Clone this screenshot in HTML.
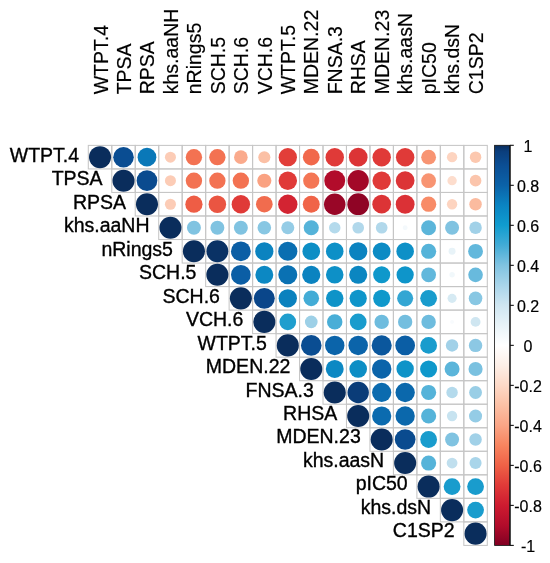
<!DOCTYPE html>
<html><head><meta charset="utf-8"><title>corrplot</title>
<style>html,body{margin:0;padding:0;background:#fff;} body{width:550px;height:563px;overflow:hidden;} svg{display:block;}</style>
</head><body>
<svg width="550" height="563" viewBox="0 0 550 563" font-family="Liberation Sans, Arial, sans-serif">
<rect width="550" height="563" fill="#fff"/>
<g fill="none" stroke="#c6c6c6" stroke-width="1.05"><rect x="88.30" y="145.40" width="23.47" height="23.53"/><rect x="111.77" y="145.40" width="23.47" height="23.53"/><rect x="135.24" y="145.40" width="23.47" height="23.53"/><rect x="158.71" y="145.40" width="23.47" height="23.53"/><rect x="182.18" y="145.40" width="23.47" height="23.53"/><rect x="205.65" y="145.40" width="23.47" height="23.53"/><rect x="229.12" y="145.40" width="23.47" height="23.53"/><rect x="252.59" y="145.40" width="23.47" height="23.53"/><rect x="276.06" y="145.40" width="23.47" height="23.53"/><rect x="299.53" y="145.40" width="23.47" height="23.53"/><rect x="323.00" y="145.40" width="23.47" height="23.53"/><rect x="346.47" y="145.40" width="23.47" height="23.53"/><rect x="369.94" y="145.40" width="23.47" height="23.53"/><rect x="393.41" y="145.40" width="23.47" height="23.53"/><rect x="416.88" y="145.40" width="23.47" height="23.53"/><rect x="440.35" y="145.40" width="23.47" height="23.53"/><rect x="463.82" y="145.40" width="23.47" height="23.53"/><rect x="111.77" y="168.93" width="23.47" height="23.53"/><rect x="135.24" y="168.93" width="23.47" height="23.53"/><rect x="158.71" y="168.93" width="23.47" height="23.53"/><rect x="182.18" y="168.93" width="23.47" height="23.53"/><rect x="205.65" y="168.93" width="23.47" height="23.53"/><rect x="229.12" y="168.93" width="23.47" height="23.53"/><rect x="252.59" y="168.93" width="23.47" height="23.53"/><rect x="276.06" y="168.93" width="23.47" height="23.53"/><rect x="299.53" y="168.93" width="23.47" height="23.53"/><rect x="323.00" y="168.93" width="23.47" height="23.53"/><rect x="346.47" y="168.93" width="23.47" height="23.53"/><rect x="369.94" y="168.93" width="23.47" height="23.53"/><rect x="393.41" y="168.93" width="23.47" height="23.53"/><rect x="416.88" y="168.93" width="23.47" height="23.53"/><rect x="440.35" y="168.93" width="23.47" height="23.53"/><rect x="463.82" y="168.93" width="23.47" height="23.53"/><rect x="135.24" y="192.46" width="23.47" height="23.53"/><rect x="158.71" y="192.46" width="23.47" height="23.53"/><rect x="182.18" y="192.46" width="23.47" height="23.53"/><rect x="205.65" y="192.46" width="23.47" height="23.53"/><rect x="229.12" y="192.46" width="23.47" height="23.53"/><rect x="252.59" y="192.46" width="23.47" height="23.53"/><rect x="276.06" y="192.46" width="23.47" height="23.53"/><rect x="299.53" y="192.46" width="23.47" height="23.53"/><rect x="323.00" y="192.46" width="23.47" height="23.53"/><rect x="346.47" y="192.46" width="23.47" height="23.53"/><rect x="369.94" y="192.46" width="23.47" height="23.53"/><rect x="393.41" y="192.46" width="23.47" height="23.53"/><rect x="416.88" y="192.46" width="23.47" height="23.53"/><rect x="440.35" y="192.46" width="23.47" height="23.53"/><rect x="463.82" y="192.46" width="23.47" height="23.53"/><rect x="158.71" y="215.99" width="23.47" height="23.53"/><rect x="182.18" y="215.99" width="23.47" height="23.53"/><rect x="205.65" y="215.99" width="23.47" height="23.53"/><rect x="229.12" y="215.99" width="23.47" height="23.53"/><rect x="252.59" y="215.99" width="23.47" height="23.53"/><rect x="276.06" y="215.99" width="23.47" height="23.53"/><rect x="299.53" y="215.99" width="23.47" height="23.53"/><rect x="323.00" y="215.99" width="23.47" height="23.53"/><rect x="346.47" y="215.99" width="23.47" height="23.53"/><rect x="369.94" y="215.99" width="23.47" height="23.53"/><rect x="393.41" y="215.99" width="23.47" height="23.53"/><rect x="416.88" y="215.99" width="23.47" height="23.53"/><rect x="440.35" y="215.99" width="23.47" height="23.53"/><rect x="463.82" y="215.99" width="23.47" height="23.53"/><rect x="182.18" y="239.52" width="23.47" height="23.53"/><rect x="205.65" y="239.52" width="23.47" height="23.53"/><rect x="229.12" y="239.52" width="23.47" height="23.53"/><rect x="252.59" y="239.52" width="23.47" height="23.53"/><rect x="276.06" y="239.52" width="23.47" height="23.53"/><rect x="299.53" y="239.52" width="23.47" height="23.53"/><rect x="323.00" y="239.52" width="23.47" height="23.53"/><rect x="346.47" y="239.52" width="23.47" height="23.53"/><rect x="369.94" y="239.52" width="23.47" height="23.53"/><rect x="393.41" y="239.52" width="23.47" height="23.53"/><rect x="416.88" y="239.52" width="23.47" height="23.53"/><rect x="440.35" y="239.52" width="23.47" height="23.53"/><rect x="463.82" y="239.52" width="23.47" height="23.53"/><rect x="205.65" y="263.05" width="23.47" height="23.53"/><rect x="229.12" y="263.05" width="23.47" height="23.53"/><rect x="252.59" y="263.05" width="23.47" height="23.53"/><rect x="276.06" y="263.05" width="23.47" height="23.53"/><rect x="299.53" y="263.05" width="23.47" height="23.53"/><rect x="323.00" y="263.05" width="23.47" height="23.53"/><rect x="346.47" y="263.05" width="23.47" height="23.53"/><rect x="369.94" y="263.05" width="23.47" height="23.53"/><rect x="393.41" y="263.05" width="23.47" height="23.53"/><rect x="416.88" y="263.05" width="23.47" height="23.53"/><rect x="440.35" y="263.05" width="23.47" height="23.53"/><rect x="463.82" y="263.05" width="23.47" height="23.53"/><rect x="229.12" y="286.58" width="23.47" height="23.53"/><rect x="252.59" y="286.58" width="23.47" height="23.53"/><rect x="276.06" y="286.58" width="23.47" height="23.53"/><rect x="299.53" y="286.58" width="23.47" height="23.53"/><rect x="323.00" y="286.58" width="23.47" height="23.53"/><rect x="346.47" y="286.58" width="23.47" height="23.53"/><rect x="369.94" y="286.58" width="23.47" height="23.53"/><rect x="393.41" y="286.58" width="23.47" height="23.53"/><rect x="416.88" y="286.58" width="23.47" height="23.53"/><rect x="440.35" y="286.58" width="23.47" height="23.53"/><rect x="463.82" y="286.58" width="23.47" height="23.53"/><rect x="252.59" y="310.11" width="23.47" height="23.53"/><rect x="276.06" y="310.11" width="23.47" height="23.53"/><rect x="299.53" y="310.11" width="23.47" height="23.53"/><rect x="323.00" y="310.11" width="23.47" height="23.53"/><rect x="346.47" y="310.11" width="23.47" height="23.53"/><rect x="369.94" y="310.11" width="23.47" height="23.53"/><rect x="393.41" y="310.11" width="23.47" height="23.53"/><rect x="416.88" y="310.11" width="23.47" height="23.53"/><rect x="440.35" y="310.11" width="23.47" height="23.53"/><rect x="463.82" y="310.11" width="23.47" height="23.53"/><rect x="276.06" y="333.64" width="23.47" height="23.53"/><rect x="299.53" y="333.64" width="23.47" height="23.53"/><rect x="323.00" y="333.64" width="23.47" height="23.53"/><rect x="346.47" y="333.64" width="23.47" height="23.53"/><rect x="369.94" y="333.64" width="23.47" height="23.53"/><rect x="393.41" y="333.64" width="23.47" height="23.53"/><rect x="416.88" y="333.64" width="23.47" height="23.53"/><rect x="440.35" y="333.64" width="23.47" height="23.53"/><rect x="463.82" y="333.64" width="23.47" height="23.53"/><rect x="299.53" y="357.17" width="23.47" height="23.53"/><rect x="323.00" y="357.17" width="23.47" height="23.53"/><rect x="346.47" y="357.17" width="23.47" height="23.53"/><rect x="369.94" y="357.17" width="23.47" height="23.53"/><rect x="393.41" y="357.17" width="23.47" height="23.53"/><rect x="416.88" y="357.17" width="23.47" height="23.53"/><rect x="440.35" y="357.17" width="23.47" height="23.53"/><rect x="463.82" y="357.17" width="23.47" height="23.53"/><rect x="323.00" y="380.70" width="23.47" height="23.53"/><rect x="346.47" y="380.70" width="23.47" height="23.53"/><rect x="369.94" y="380.70" width="23.47" height="23.53"/><rect x="393.41" y="380.70" width="23.47" height="23.53"/><rect x="416.88" y="380.70" width="23.47" height="23.53"/><rect x="440.35" y="380.70" width="23.47" height="23.53"/><rect x="463.82" y="380.70" width="23.47" height="23.53"/><rect x="346.47" y="404.23" width="23.47" height="23.53"/><rect x="369.94" y="404.23" width="23.47" height="23.53"/><rect x="393.41" y="404.23" width="23.47" height="23.53"/><rect x="416.88" y="404.23" width="23.47" height="23.53"/><rect x="440.35" y="404.23" width="23.47" height="23.53"/><rect x="463.82" y="404.23" width="23.47" height="23.53"/><rect x="369.94" y="427.76" width="23.47" height="23.53"/><rect x="393.41" y="427.76" width="23.47" height="23.53"/><rect x="416.88" y="427.76" width="23.47" height="23.53"/><rect x="440.35" y="427.76" width="23.47" height="23.53"/><rect x="463.82" y="427.76" width="23.47" height="23.53"/><rect x="393.41" y="451.29" width="23.47" height="23.53"/><rect x="416.88" y="451.29" width="23.47" height="23.53"/><rect x="440.35" y="451.29" width="23.47" height="23.53"/><rect x="463.82" y="451.29" width="23.47" height="23.53"/><rect x="416.88" y="474.82" width="23.47" height="23.53"/><rect x="440.35" y="474.82" width="23.47" height="23.53"/><rect x="463.82" y="474.82" width="23.47" height="23.53"/><rect x="440.35" y="498.35" width="23.47" height="23.53"/><rect x="463.82" y="498.35" width="23.47" height="23.53"/><rect x="463.82" y="521.88" width="23.47" height="23.53"/></g>
<g><circle cx="100.03" cy="157.17" r="11.03" fill="#0a2d5c"/><circle cx="123.50" cy="157.17" r="10.29" fill="#0a4d92"/><circle cx="146.98" cy="157.17" r="9.36" fill="#0a78b8"/><circle cx="170.44" cy="157.17" r="5.52" fill="#fcccb6"/><circle cx="193.92" cy="157.17" r="8.18" fill="#f37252"/><circle cx="217.38" cy="157.17" r="8.18" fill="#f37252"/><circle cx="240.86" cy="157.17" r="6.80" fill="#faaa8c"/><circle cx="264.32" cy="157.17" r="6.04" fill="#fbc0a5"/><circle cx="287.80" cy="157.17" r="9.16" fill="#e23e39"/><circle cx="311.26" cy="157.17" r="8.40" fill="#f1684b"/><circle cx="334.74" cy="157.17" r="9.23" fill="#e03a38"/><circle cx="358.20" cy="157.17" r="9.36" fill="#dc3436"/><circle cx="381.68" cy="157.17" r="9.23" fill="#e03a38"/><circle cx="405.15" cy="157.17" r="9.23" fill="#e03a38"/><circle cx="428.62" cy="157.17" r="7.40" fill="#f89472"/><circle cx="452.08" cy="157.17" r="5.17" fill="#fdd4c0"/><circle cx="475.56" cy="157.17" r="5.73" fill="#fcc8af"/><circle cx="123.50" cy="180.69" r="11.03" fill="#0a2d5c"/><circle cx="146.98" cy="180.69" r="10.35" fill="#0a4b8f"/><circle cx="170.44" cy="180.69" r="5.52" fill="#fcccb6"/><circle cx="193.92" cy="180.69" r="8.18" fill="#f37252"/><circle cx="217.38" cy="180.69" r="8.18" fill="#f37252"/><circle cx="240.86" cy="180.69" r="8.18" fill="#f37252"/><circle cx="264.32" cy="180.69" r="7.06" fill="#faa282"/><circle cx="287.80" cy="180.69" r="9.23" fill="#e03a38"/><circle cx="311.26" cy="180.69" r="8.11" fill="#f47655"/><circle cx="334.74" cy="180.69" r="10.46" fill="#b20c2b"/><circle cx="358.20" cy="180.69" r="10.64" fill="#a30828"/><circle cx="381.68" cy="180.69" r="9.23" fill="#e03a38"/><circle cx="405.15" cy="180.69" r="9.36" fill="#dc3436"/><circle cx="428.62" cy="180.69" r="7.40" fill="#f89472"/><circle cx="452.08" cy="180.69" r="4.68" fill="#fdddcd"/><circle cx="475.56" cy="180.69" r="5.84" fill="#fbc5ac"/><circle cx="146.98" cy="204.23" r="11.03" fill="#0a2d5c"/><circle cx="170.44" cy="204.23" r="5.52" fill="#fcccb6"/><circle cx="193.92" cy="204.23" r="8.62" fill="#ee5d45"/><circle cx="217.38" cy="204.23" r="8.76" fill="#ea5542"/><circle cx="240.86" cy="204.23" r="9.23" fill="#e03a38"/><circle cx="264.32" cy="204.23" r="8.33" fill="#f16c4e"/><circle cx="287.80" cy="204.23" r="9.68" fill="#d32432"/><circle cx="311.26" cy="204.23" r="8.47" fill="#f06448"/><circle cx="334.74" cy="204.23" r="10.75" fill="#990627"/><circle cx="358.20" cy="204.23" r="10.86" fill="#8f0425"/><circle cx="381.68" cy="204.23" r="9.36" fill="#dc3436"/><circle cx="405.15" cy="204.23" r="9.42" fill="#db3136"/><circle cx="428.62" cy="204.23" r="7.64" fill="#f88b67"/><circle cx="452.08" cy="204.23" r="5.17" fill="#fdd4c0"/><circle cx="475.56" cy="204.23" r="6.24" fill="#fbbb9f"/><circle cx="170.44" cy="227.75" r="11.03" fill="#0a2d5c"/><circle cx="193.92" cy="227.75" r="6.98" fill="#80c3e1"/><circle cx="217.38" cy="227.75" r="6.98" fill="#80c3e1"/><circle cx="240.86" cy="227.75" r="6.98" fill="#80c3e1"/><circle cx="264.32" cy="227.75" r="6.80" fill="#88c7e3"/><circle cx="287.80" cy="227.75" r="6.53" fill="#94cce6"/><circle cx="311.26" cy="227.75" r="7.56" fill="#55b3d9"/><circle cx="334.74" cy="227.75" r="5.73" fill="#b4daec"/><circle cx="358.20" cy="227.75" r="5.84" fill="#b1d8eb"/><circle cx="381.68" cy="227.75" r="5.84" fill="#b1d8eb"/><circle cx="405.15" cy="227.75" r="2.47" fill="#f4f9fc"/><circle cx="428.62" cy="227.75" r="7.48" fill="#5bb5da"/><circle cx="452.08" cy="227.75" r="6.98" fill="#80c3e1"/><circle cx="475.56" cy="227.75" r="6.24" fill="#a1d1e8"/><circle cx="193.92" cy="251.29" r="11.03" fill="#0a2d5c"/><circle cx="217.38" cy="251.29" r="10.92" fill="#0a3265"/><circle cx="240.86" cy="251.29" r="9.87" fill="#0b5ea5"/><circle cx="264.32" cy="251.29" r="9.10" fill="#0b83c0"/><circle cx="287.80" cy="251.29" r="9.55" fill="#0a6eb1"/><circle cx="311.26" cy="251.29" r="8.82" fill="#0d8ec5"/><circle cx="334.74" cy="251.29" r="8.76" fill="#0d90c7"/><circle cx="358.20" cy="251.29" r="9.10" fill="#0b83c0"/><circle cx="381.68" cy="251.29" r="8.89" fill="#0c8bc4"/><circle cx="405.15" cy="251.29" r="8.76" fill="#0d90c7"/><circle cx="428.62" cy="251.29" r="7.56" fill="#55b3d9"/><circle cx="452.08" cy="251.29" r="3.49" fill="#e8f3f8"/><circle cx="475.56" cy="251.29" r="7.40" fill="#62b8dc"/><circle cx="217.38" cy="274.81" r="11.03" fill="#0a2d5c"/><circle cx="240.86" cy="274.81" r="9.87" fill="#0b5ea5"/><circle cx="264.32" cy="274.81" r="8.96" fill="#0c88c3"/><circle cx="287.80" cy="274.81" r="9.49" fill="#0a71b3"/><circle cx="311.26" cy="274.81" r="9.10" fill="#0b83c0"/><circle cx="334.74" cy="274.81" r="8.76" fill="#0d90c7"/><circle cx="358.20" cy="274.81" r="9.03" fill="#0b86c1"/><circle cx="381.68" cy="274.81" r="8.54" fill="#0f98cb"/><circle cx="405.15" cy="274.81" r="8.62" fill="#0e95ca"/><circle cx="428.62" cy="274.81" r="7.40" fill="#62b8dc"/><circle cx="452.08" cy="274.81" r="2.70" fill="#f1f8fb"/><circle cx="475.56" cy="274.81" r="7.32" fill="#68badd"/><circle cx="240.86" cy="298.35" r="11.03" fill="#0a2d5c"/><circle cx="264.32" cy="298.35" r="10.46" fill="#0a468a"/><circle cx="287.80" cy="298.35" r="9.16" fill="#0a81be"/><circle cx="311.26" cy="298.35" r="7.80" fill="#43acd6"/><circle cx="334.74" cy="298.35" r="8.69" fill="#0e93c8"/><circle cx="358.20" cy="298.35" r="8.62" fill="#0e95ca"/><circle cx="381.68" cy="298.35" r="8.54" fill="#0f98cb"/><circle cx="405.15" cy="298.35" r="8.03" fill="#33a6d3"/><circle cx="428.62" cy="298.35" r="8.40" fill="#199ccd"/><circle cx="452.08" cy="298.35" r="4.55" fill="#d6eaf3"/><circle cx="475.56" cy="298.35" r="6.80" fill="#88c7e3"/><circle cx="264.32" cy="321.88" r="11.03" fill="#0a2d5c"/><circle cx="287.80" cy="321.88" r="8.33" fill="#1f9ece"/><circle cx="311.26" cy="321.88" r="6.34" fill="#9dd0e7"/><circle cx="334.74" cy="321.88" r="7.72" fill="#49aed7"/><circle cx="358.20" cy="321.88" r="8.40" fill="#199ccd"/><circle cx="381.68" cy="321.88" r="7.23" fill="#6ebcde"/><circle cx="405.15" cy="321.88" r="7.15" fill="#74bedf"/><circle cx="428.62" cy="321.88" r="7.23" fill="#6ebcde"/><circle cx="452.08" cy="321.88" r="1.91" fill="#f8fbfd"/><circle cx="475.56" cy="321.88" r="4.93" fill="#cfe6f1"/><circle cx="287.80" cy="345.40" r="11.03" fill="#0a2d5c"/><circle cx="311.26" cy="345.40" r="10.29" fill="#0a4d92"/><circle cx="334.74" cy="345.40" r="9.74" fill="#0b64aa"/><circle cx="358.20" cy="345.40" r="9.74" fill="#0b64aa"/><circle cx="381.68" cy="345.40" r="10.05" fill="#0b579d"/><circle cx="405.15" cy="345.40" r="9.87" fill="#0b5ea5"/><circle cx="428.62" cy="345.40" r="8.40" fill="#199ccd"/><circle cx="452.08" cy="345.40" r="6.24" fill="#a1d1e8"/><circle cx="475.56" cy="345.40" r="6.71" fill="#8cc8e4"/><circle cx="311.26" cy="368.94" r="11.03" fill="#0a2d5c"/><circle cx="334.74" cy="368.94" r="8.96" fill="#0c88c3"/><circle cx="358.20" cy="368.94" r="8.82" fill="#0d8ec5"/><circle cx="381.68" cy="368.94" r="9.74" fill="#0b64aa"/><circle cx="405.15" cy="368.94" r="8.69" fill="#0e93c8"/><circle cx="428.62" cy="368.94" r="8.54" fill="#0f98cb"/><circle cx="452.08" cy="368.94" r="7.48" fill="#5bb5da"/><circle cx="475.56" cy="368.94" r="7.06" fill="#7ac1e0"/><circle cx="334.74" cy="392.47" r="11.03" fill="#0a2d5c"/><circle cx="358.20" cy="392.47" r="10.69" fill="#0a3c78"/><circle cx="381.68" cy="392.47" r="9.62" fill="#0b6baf"/><circle cx="405.15" cy="392.47" r="9.68" fill="#0b68ac"/><circle cx="428.62" cy="392.47" r="7.56" fill="#55b3d9"/><circle cx="452.08" cy="392.47" r="5.73" fill="#b4daec"/><circle cx="475.56" cy="392.47" r="6.43" fill="#99cee6"/><circle cx="358.20" cy="416.00" r="11.03" fill="#0a2d5c"/><circle cx="381.68" cy="416.00" r="9.62" fill="#0b6baf"/><circle cx="405.15" cy="416.00" r="9.68" fill="#0b68ac"/><circle cx="428.62" cy="416.00" r="7.56" fill="#55b3d9"/><circle cx="452.08" cy="416.00" r="5.17" fill="#c7e3f0"/><circle cx="475.56" cy="416.00" r="6.53" fill="#94cce6"/><circle cx="381.68" cy="439.52" r="11.03" fill="#0a2d5c"/><circle cx="405.15" cy="439.52" r="10.35" fill="#0a4b8f"/><circle cx="428.62" cy="439.52" r="8.40" fill="#199ccd"/><circle cx="452.08" cy="439.52" r="6.98" fill="#80c3e1"/><circle cx="475.56" cy="439.52" r="6.24" fill="#a1d1e8"/><circle cx="405.15" cy="463.05" r="11.03" fill="#0a2d5c"/><circle cx="428.62" cy="463.05" r="7.56" fill="#55b3d9"/><circle cx="452.08" cy="463.05" r="5.40" fill="#c0dfee"/><circle cx="475.56" cy="463.05" r="6.04" fill="#a9d5ea"/><circle cx="428.62" cy="486.59" r="11.03" fill="#0a2d5c"/><circle cx="452.08" cy="486.59" r="8.40" fill="#199ccd"/><circle cx="475.56" cy="486.59" r="8.40" fill="#199ccd"/><circle cx="452.08" cy="510.12" r="11.03" fill="#0a2d5c"/><circle cx="475.56" cy="510.12" r="8.40" fill="#199ccd"/><circle cx="475.56" cy="533.64" r="11.03" fill="#0a2d5c"/></g>
<g font-size="19.5" fill="#000" stroke="#000" stroke-width="0.35"><text x="79.10" y="161.80" text-anchor="end">WTPT.4</text><text x="102.57" y="185.27" text-anchor="end">TPSA</text><text x="126.04" y="208.74" text-anchor="end">RPSA</text><text x="149.51" y="232.21" text-anchor="end">khs.aaNH</text><text x="172.98" y="255.68" text-anchor="end">nRings5</text><text x="196.45" y="279.15" text-anchor="end">SCH.5</text><text x="219.92" y="302.62" text-anchor="end">SCH.6</text><text x="243.39" y="326.09" text-anchor="end">VCH.6</text><text x="266.86" y="349.56" text-anchor="end">WTPT.5</text><text x="290.33" y="373.03" text-anchor="end">MDEN.22</text><text x="313.80" y="396.50" text-anchor="end">FNSA.3</text><text x="337.27" y="419.97" text-anchor="end">RHSA</text><text x="360.74" y="443.44" text-anchor="end">MDEN.23</text><text x="384.21" y="466.91" text-anchor="end">khs.aasN</text><text x="407.68" y="490.38" text-anchor="end">pIC50</text><text x="431.15" y="513.85" text-anchor="end">khs.dsN</text><text x="454.62" y="537.32" text-anchor="end">C1SP2</text><text transform="translate(107.50,94.30) rotate(-90)" stroke-width="0.18">WTPT.4</text><text transform="translate(130.94,94.30) rotate(-90)" stroke-width="0.18">TPSA</text><text transform="translate(154.38,94.30) rotate(-90)" stroke-width="0.18">RPSA</text><text transform="translate(177.82,94.30) rotate(-90)" stroke-width="0.18">khs.aaNH</text><text transform="translate(201.26,94.30) rotate(-90)" stroke-width="0.18">nRings5</text><text transform="translate(224.70,94.30) rotate(-90)" stroke-width="0.18">SCH.5</text><text transform="translate(248.14,94.30) rotate(-90)" stroke-width="0.18">SCH.6</text><text transform="translate(271.58,94.30) rotate(-90)" stroke-width="0.18">VCH.6</text><text transform="translate(295.02,94.30) rotate(-90)" stroke-width="0.18">WTPT.5</text><text transform="translate(318.46,94.30) rotate(-90)" stroke-width="0.18">MDEN.22</text><text transform="translate(341.90,94.30) rotate(-90)" stroke-width="0.18">FNSA.3</text><text transform="translate(365.34,94.30) rotate(-90)" stroke-width="0.18">RHSA</text><text transform="translate(388.78,94.30) rotate(-90)" stroke-width="0.18">MDEN.23</text><text transform="translate(412.22,94.30) rotate(-90)" stroke-width="0.18">khs.aasN</text><text transform="translate(435.66,94.30) rotate(-90)" stroke-width="0.18">pIC50</text><text transform="translate(459.10,94.30) rotate(-90)" stroke-width="0.18">khs.dsN</text><text transform="translate(482.54,94.30) rotate(-90)" stroke-width="0.18">C1SP2</text></g>
<defs><linearGradient id="cb" x1="0" y1="0" x2="0" y2="1"><stop offset="0.000" stop-color="#0A2D5C"/><stop offset="0.015" stop-color="#0B3E7C"/><stop offset="0.050" stop-color="#0B4E94"/><stop offset="0.100" stop-color="#0B62A8"/><stop offset="0.150" stop-color="#0A84C2"/><stop offset="0.200" stop-color="#109CCF"/><stop offset="0.250" stop-color="#43ACD6"/><stop offset="0.300" stop-color="#80C3E1"/><stop offset="0.350" stop-color="#A9D5EA"/><stop offset="0.400" stop-color="#CFE6F1"/><stop offset="0.450" stop-color="#E8F3F8"/><stop offset="0.500" stop-color="#FFFFFF"/><stop offset="0.550" stop-color="#FDEFE7"/><stop offset="0.600" stop-color="#FDD9C7"/><stop offset="0.650" stop-color="#FBC0A5"/><stop offset="0.700" stop-color="#FAA586"/><stop offset="0.750" stop-color="#F7845F"/><stop offset="0.800" stop-color="#EF6146"/><stop offset="0.850" stop-color="#E03A38"/><stop offset="0.900" stop-color="#CE1B30"/><stop offset="0.950" stop-color="#B20C2B"/><stop offset="1.000" stop-color="#800022"/></linearGradient></defs>
<rect x="494.6" y="145.3" width="15.40" height="400.10" fill="url(#cb)" stroke="#111" stroke-width="0.8"/>
<line x1="510.0" y1="145.3" x2="510.0" y2="545.4" stroke="#111" stroke-width="1.2"/>
<g><line x1="510.0" y1="145.30" x2="513.8" y2="145.30" stroke="#111" stroke-width="1.1"/><text x="528" y="151.80" text-anchor="middle" font-size="16" stroke="#000" stroke-width="0.18">1</text><line x1="510.0" y1="185.31" x2="513.8" y2="185.31" stroke="#111" stroke-width="1.1"/><text x="528" y="191.81" text-anchor="middle" font-size="16" stroke="#000" stroke-width="0.18">0.8</text><line x1="510.0" y1="225.32" x2="513.8" y2="225.32" stroke="#111" stroke-width="1.1"/><text x="528" y="231.82" text-anchor="middle" font-size="16" stroke="#000" stroke-width="0.18">0.6</text><line x1="510.0" y1="265.33" x2="513.8" y2="265.33" stroke="#111" stroke-width="1.1"/><text x="528" y="271.83" text-anchor="middle" font-size="16" stroke="#000" stroke-width="0.18">0.4</text><line x1="510.0" y1="305.34" x2="513.8" y2="305.34" stroke="#111" stroke-width="1.1"/><text x="528" y="311.84" text-anchor="middle" font-size="16" stroke="#000" stroke-width="0.18">0.2</text><line x1="510.0" y1="345.35" x2="513.8" y2="345.35" stroke="#111" stroke-width="1.1"/><text x="528" y="351.85" text-anchor="middle" font-size="16" stroke="#000" stroke-width="0.18">0</text><line x1="510.0" y1="385.36" x2="513.8" y2="385.36" stroke="#111" stroke-width="1.1"/><text x="528" y="391.86" text-anchor="middle" font-size="16" stroke="#000" stroke-width="0.18">-0.2</text><line x1="510.0" y1="425.37" x2="513.8" y2="425.37" stroke="#111" stroke-width="1.1"/><text x="528" y="431.87" text-anchor="middle" font-size="16" stroke="#000" stroke-width="0.18">-0.4</text><line x1="510.0" y1="465.38" x2="513.8" y2="465.38" stroke="#111" stroke-width="1.1"/><text x="528" y="471.88" text-anchor="middle" font-size="16" stroke="#000" stroke-width="0.18">-0.6</text><line x1="510.0" y1="505.39" x2="513.8" y2="505.39" stroke="#111" stroke-width="1.1"/><text x="528" y="511.89" text-anchor="middle" font-size="16" stroke="#000" stroke-width="0.18">-0.8</text><line x1="510.0" y1="545.40" x2="513.8" y2="545.40" stroke="#111" stroke-width="1.1"/><text x="528" y="551.90" text-anchor="middle" font-size="16" stroke="#000" stroke-width="0.18">-1</text></g>
</svg>
</body></html>
